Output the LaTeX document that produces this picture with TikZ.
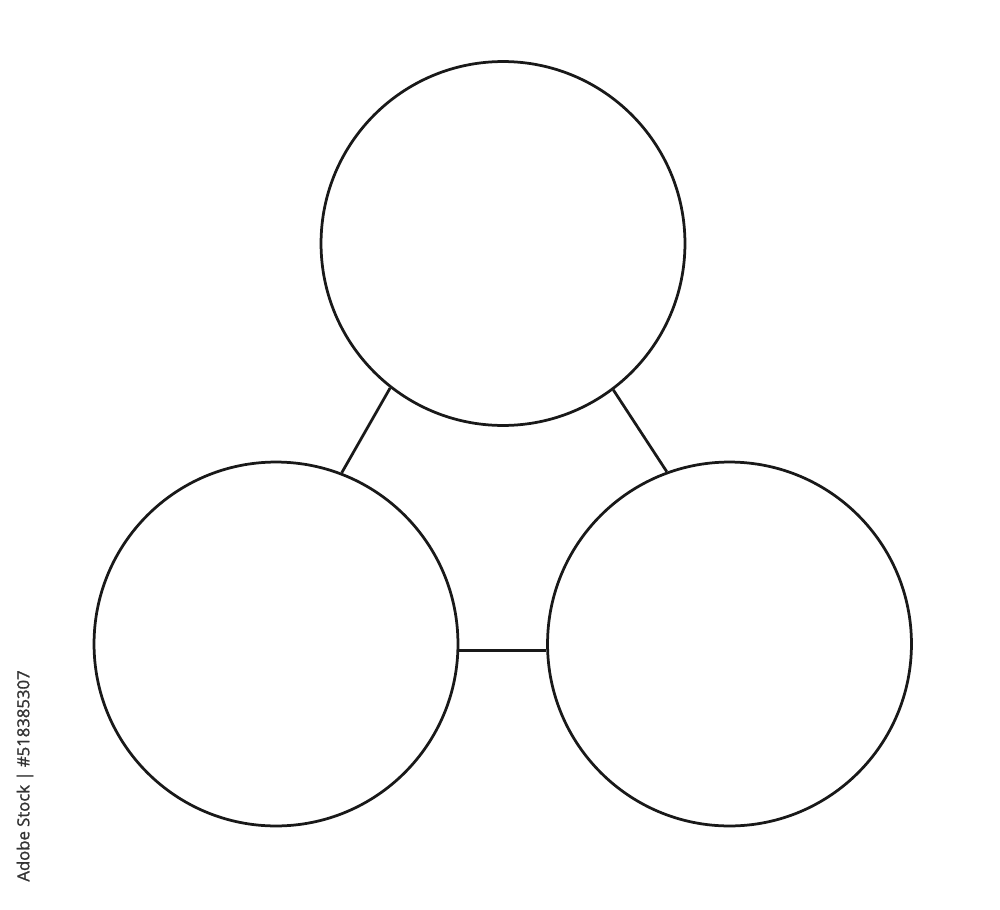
\documentclass[tikz,border=0pt]{standalone}
\usepackage{fontspec}
\newfontfamily\stockfont[FakeBold=1.2]{Open Sans}

\tikzset{
  ring/.style={circle,draw=black!90,line width=0.055cm,minimum size=7.28cm,inner sep=0pt},
  link/.style={draw=black!90,line width=0.055cm}
}

\begin{document}
\begin{tikzpicture}[x=0.02cm,y=-0.02cm]
\useasboundingbox[fill=white] (0,0) rectangle (1000,909);
\node[ring] (top) at (503,243.5) {};
\node[ring] (left) at (276,644) {};
\node[ring] (right) at (729.5,644) {};
\draw[link] (top.232.5) -- (left.69.9);
\draw[link] (top.307.5) -- (right.110.3);
\draw[link] (left.-2) -- (right.182);
\node[rotate=90,text=black!80,font=\stockfont\fontsize{9.5pt}{11pt}\selectfont] (stock) at (25,776) {Adobe Stock | \#518385307};
\end{tikzpicture}
\end{document}
